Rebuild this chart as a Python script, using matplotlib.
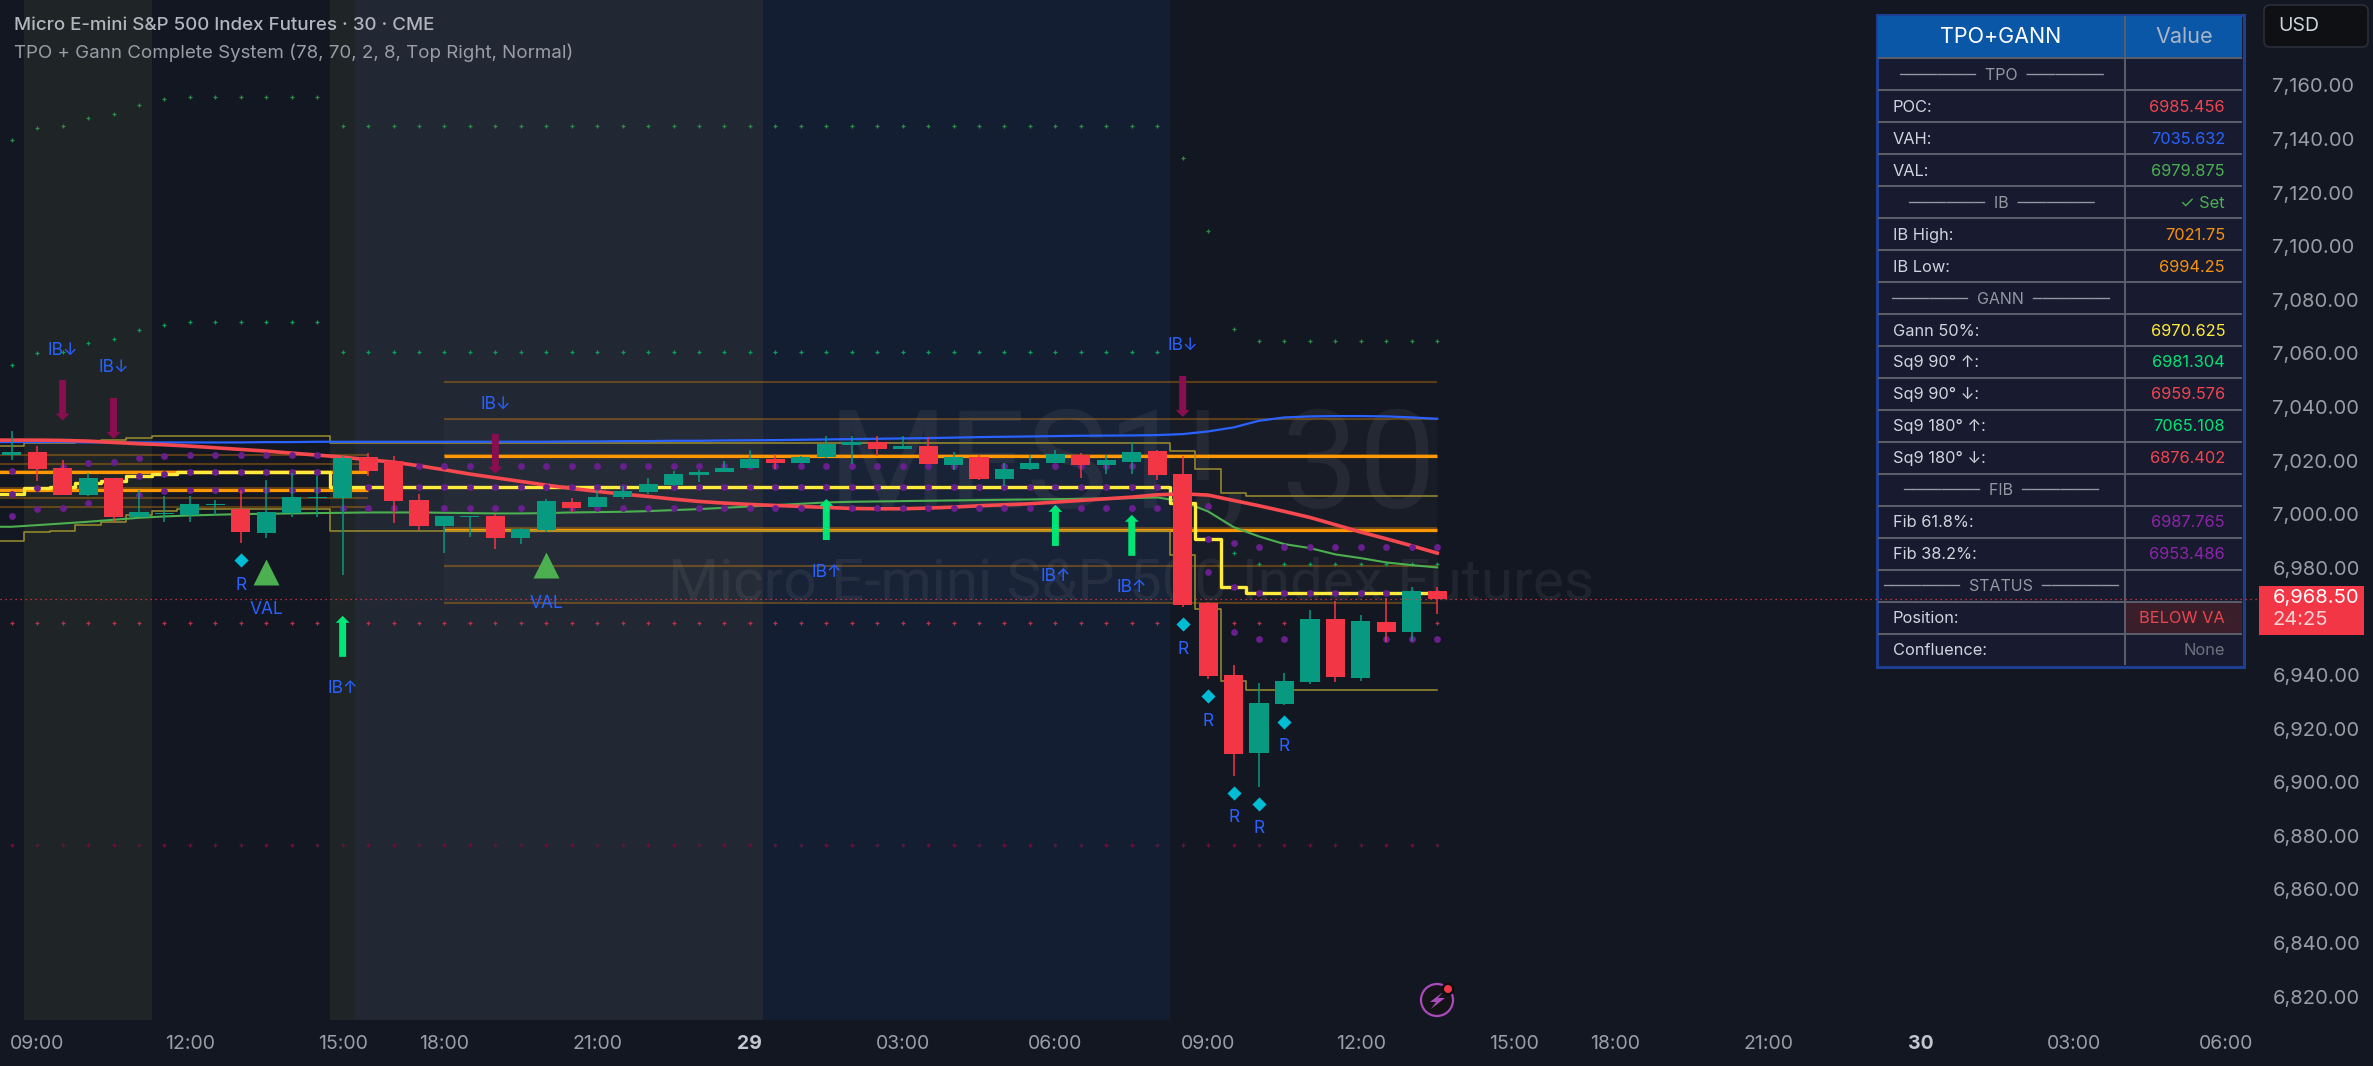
import numpy as np
import matplotlib
matplotlib.use('Agg')
import matplotlib.pyplot as plt
from matplotlib.patches import Rectangle, FancyBboxPatch, Circle, Polygon

plt.rcParams['font.family'] = ['Inter', 'DejaVu Sans']

# Candles, one entry per 30 minute bar
opens = [7022.21, 7023.33, 7017.36, 7007.28, 7013.63, 6999.07, 7000.07, 6999.82, 7003.55, 7001.93,
         6993.10, 7000.56, 7006.16, 7006.16, 7021.46, 7019.97, 7005.42, 6995.71, 6999.07, 6999.44,
         6991.23, 6994.22, 7004.67, 7002.80, 7006.54, 7008.40, 7011.01, 7014.75, 7015.87, 7017.36,
         7020.72, 7019.22, 7021.46, 7025.94, 7027.06, 7024.45, 7025.57, 7018.48, 7021.46, 7013.25,
         7017.00, 7019.22, 7022.21, 7018.48, 7019.60, 7023.69, 7015.11, 6966.97, 6940.10, 6910.99,
         6929.27, 6937.49, 6961.00, 6938.98, 6959.88, 6956.15, 6971.45]
closes = [7023.33, 7017.00, 7007.28, 7013.63, 6999.07, 7000.94, 7000.56, 7003.92, 7003.92, 6993.47,
          7000.94, 7006.54, 7006.54, 7021.09, 7016.24, 7005.04, 6995.71, 6999.44, 6999.44, 6991.23,
          6994.59, 7005.04, 7002.43, 7006.54, 7008.77, 7011.39, 7015.12, 7015.87, 7017.36, 7020.72,
          7019.22, 7021.46, 7026.32, 7027.06, 7024.45, 7025.57, 7018.85, 7021.46, 7013.25, 7017.00,
          7019.22, 7022.58, 7018.48, 7020.34, 7023.33, 7014.74, 6966.22, 6939.72, 6910.62, 6929.65,
          6937.86, 6961.00, 6939.35, 6960.25, 6956.15, 6971.45, 6968.50]
highs = [7031.17, 7025.57, 7020.34, 7015.37, 7013.63, 7009.15, 7006.66, 7006.66, 7005.42, 7009.15,
         7012.88, 7015.37, 7014.12, 7021.84, 7022.83, 7021.84, 7007.65, 6999.44, 6999.44, 7000.19,
         6994.97, 7005.79, 7006.16, 7009.15, 7010.64, 7013.63, 7016.24, 7016.61, 7019.97, 7024.08,
         7022.58, 7021.84, 7029.30, 7029.30, 7029.05, 7029.30, 7028.80, 7023.33, 7022.21, 7019.10,
         7022.21, 7024.08, 7022.96, 7022.21, 7027.06, 7024.07, 7021.83, 6967.34, 6943.83, 6937.11,
         6940.84, 6964.36, 6967.71, 6962.49, 6968.83, 6972.94, 6972.94]
lows = [7020.34, 7012.51, 7007.28, 7006.66, 6996.96, 6999.07, 6997.21, 6997.21, 6999.82, 6989.37,
        6991.23, 6999.07, 6999.07, 6977.43, 7014.37, 6996.83, 6994.22, 6985.64, 6991.60, 6987.13,
        6989.00, 6993.47, 7000.94, 7002.80, 7005.79, 7007.65, 7010.64, 7012.13, 7015.87, 7017.36,
        7017.00, 7019.22, 7021.09, 7018.85, 7021.84, 7024.45, 7018.85, 7016.61, 7012.88, 7010.64,
        7016.61, 7019.22, 7013.63, 7015.12, 7015.12, 7012.87, 6965.48, 6938.60, 6902.40, 6898.30,
        6928.90, 6936.74, 6937.49, 6937.86, 6952.41, 6952.79, 6962.86]

# Indicator lines
vah_line = [7026.94, 7026.94, 7026.94, 7026.81, 7026.81, 7026.81, 7026.81, 7026.81, 7026.81, 7026.81,
            7026.94, 7026.94, 7027.06, 7027.06, 7027.06, 7027.06, 7027.06, 7027.06, 7027.06, 7027.06,
            7027.06, 7027.06, 7027.18, 7027.18, 7027.31, 7027.31, 7027.43, 7027.43, 7027.56, 7027.62,
            7027.68, 7027.80, 7027.93, 7028.05, 7028.18, 7028.30, 7028.43, 7028.60, 7028.80, 7028.92,
            7029.05, 7029.18, 7029.30, 7029.36, 7029.42, 7029.55, 7029.92, 7030.92, 7032.41, 7034.90,
            7036.14, 7036.52, 7036.64, 7036.64, 7036.52, 7036.14, 7035.64]
poc_line = [7027.68, 7027.68, 7027.56, 7027.31, 7026.81, 7026.32, 7025.94, 7025.44, 7024.82, 7024.20,
            7023.58, 7022.83, 7022.09, 7021.34, 7020.34, 7019.47, 7018.10, 7016.61, 7015.00, 7013.63,
            7012.26, 7010.89, 7009.65, 7008.53, 7007.53, 7006.66, 7005.66, 7004.79, 7004.17, 7003.67,
            7003.30, 7002.93, 7002.55, 7002.18, 7002.06, 7002.06, 7002.31, 7002.68, 7003.18, 7003.55,
            7003.92, 7004.55, 7005.17, 7005.79, 7006.41, 7007.28, 7007.65, 7007.16, 7005.17, 7003.18,
            7001.06, 6998.82, 6996.09, 6993.35, 6990.86, 6988.25, 6985.51]
val_line = [6995.34, 6995.96, 6996.58, 6997.21, 6997.95, 6998.70, 6999.20, 6999.57, 6999.82, 7000.07,
            7000.19, 7000.32, 7000.44, 7000.56, 7000.69, 7000.69, 7000.69, 7000.56, 7000.44, 7000.32,
            7000.32, 7000.44, 7000.69, 7000.81, 7000.94, 7001.19, 7001.56, 7001.93, 7002.43, 7002.93,
            7003.43, 7003.92, 7004.42, 7004.67, 7004.79, 7004.92, 7005.04, 7005.17, 7005.29, 7005.42,
            7005.54, 7005.66, 7005.79, 7005.91, 7006.04, 7006.29, 7004.79, 7001.06, 6995.22, 6991.73,
            6988.87, 6987.38, 6985.03, 6983.65, 6982.03, 6981.03, 6980.16]
gann_50 = [7007.53, 7009.77, 7010.14, 7011.64, 7012.51, 7014.12, 7015.00] + [7015.74] * 6 + \
          [7010.14] * 33 + [7004.17, 6990.74, 6972.82] + [6970.58] * 8
range_high = [7025.57, 7026.56, 7026.56, 7027.43, 7027.68, 7028.31] + [7029.18] * 7 + \
             [7026.56] * 33 + [7023.58, 7016.86, 7007.90] + [7006.66] * 8
range_low = [6990.00, 6993.35, 6993.60, 6996.09, 6996.96, 6999.69, 7001.31] + [7001.93] * 6 + \
            [6993.72] * 33 + [6984.89, 6964.61, 6937.62] + [6934.38] * 8

# Fib dots
fib_a = [7016.06, 7018.05, 7017.80, 7019.05, 7019.42, 7020.91, 7021.66] + [7022.03] * 6 + \
        [7017.98] * 33 + [7010.00, 7003.04, 6989.24] + [6987.74] * 8
fib_b = [7007.60, 7009.72, 7010.20, 7011.58, 7011.96, 7014.20, 7014.94] + [7015.69] * 6 + \
        [7010.14] * 33 + [6998.00, 6990.73, 6972.82] + [6970.58] * 8
fib_c = [6999.27, 7001.88, 7002.25, 7004.12, 7004.49, 7007.11, 7008.60] + [7008.97] * 6 + \
        [7002.31] * 33 + [6985.00, 6978.40, 6956.00] + [6953.40] * 8

# Square of nine crosses
sq9_180_up = [7139.7, 7144.2, 7144.9, 7147.9, 7149.4, 7152.8, 7155.0] + [7155.7] * 6 + \
             [7144.9] * 33 + [7133.0, 7105.7, 7069.2] + [7064.7] * 8
sq9_90_up = [7055.6, 7060.1, 7060.6, 7064.0, 7065.4, 7068.8, 7070.7] + [7071.8] * 6 + \
            [7060.6] * 33 + [7000.0, 7021.8, 6985.6] + [6981.5] * 8
sq9_90_dn = [6959.6] * 57
sq9_180_dn = [6876.6] * 57

# Horizontal levels: (first bar, last bar, price)
ib_levels = [(-1, 14, 7015.74), (-1, 14, 7009.15), (17, 56, 7021.70), (17, 56, 6994.20)]
fib_levels = [(-1, 14, 7022.21), (-1, 14, 7018.85), (-1, 14, 7016.30), (-1, 14, 7009.80),
              (-1, 14, 7006.04), (-1, 14, 7002.80),
              (17, 56, 7049.20), (17, 56, 7035.40), (17, 56, 7022.20), (17, 56, 6994.80),
              (17, 56, 6980.66), (17, 56, 6967.00)]

# Session shading: (from, to, colour)
sessions = [(0.5, 5.5, '#1f2426'), (12.5, 13.5, '#1f2426'), (13.5, 29.5, '#212733'), (29.5, 45.5, '#141e33')]

# Signals
down_bars = [2, 4, 19, 46]
down_tail = [7050.1, 7043.4, 7030.0, 7051.6]
down_tip = [7035.0, 7028.1, 7015.1, 7036.3]
down_text = [7061.3, 7055.0, 7041.2, 7063.0]
up_bars = [13, 32, 41, 44]
up_tail = [6946.8, 6990.4, 6988.2, 6984.5]
up_tip = [6962.1, 7005.7, 7003.5, 6999.8]
up_text = [6934.9, 6978.2, 6976.6, 6972.5]
r_bars = [9, 46, 47, 48, 49, 50]
r_price = [6983.0, 6959.1, 6932.3, 6896.1, 6891.8, 6922.4]
r_text = [6973.4, 6949.7, 6922.7, 6887.0, 6882.6, 6913.4]
val_bars = [10, 21]
val_price = [6978.6, 6980.9]
val_text = [6964.3, 6966.6]

# Axis ticks
price_ticks = [7160, 7140, 7120, 7100, 7080, 7060, 7040, 7020, 7000, 6980, 6940, 6920, 6900, 6880, 6860, 6840, 6820]
time_bars = [1, 7, 13, 17, 23, 29, 35, 41, 47, 53, 59, 63, 69, 75, 81, 87]
time_labels = ['09:00', '12:00', '15:00', '18:00', '21:00', '29', '03:00', '06:00',
               '09:00', '12:00', '15:00', '18:00', '21:00', '30', '03:00', '06:00']
last_price = 6968.50

# Table on the right
table_labels = ['', 'POC:', 'VAH:', 'VAL:', '', 'IB High:', 'IB Low:', '', 'Gann 50%:', 'Sq9 90° ↑:', 'Sq9 90° ↓:',
                'Sq9 180° ↑:', 'Sq9 180° ↓:', '', 'Fib 61.8%:', 'Fib 38.2%:', '', 'Position:', 'Confluence:']
table_sections = ['TPO', '', '', '', 'IB', '', '', 'GANN', '', '', '', '', '', 'FIB', '', '', 'STATUS', '', '']
table_values = ['', '6985.456', '7035.632', '6979.875', '✓ Set', '7021.75', '6994.25', '', '6970.625', '6981.304',
                '6959.576', '7065.108', '6876.402', '', '6987.765', '6953.486', '', 'BELOW VA', 'None']
table_colors = ['w', '#f2444f', '#2962ff', '#4caf50', '#4caf50', '#f7920f', '#f7920f', 'w', '#ffeb3b', '#00e676',
                '#f2444f', '#00e676', '#f2444f', 'w', '#8e24aa', '#8e24aa', 'w', '#e8464f', '#6f727d']

BG = '#131722'
RED = '#f23645'
TEAL = '#089981'
TEXT = '#9a9da6'

fig = plt.figure(figsize=(23.73, 10.66), dpi=100, facecolor=BG)

# Full figure axes in pixels for the table and the price tag
chrome = fig.add_axes([0, 0, 1, 1], zorder=0)
chrome.set_xlim(0, 2373)
chrome.set_ylim(1066, 0)
chrome.axis('off')

ax = fig.add_axes([0, 46 / 1066, 2262 / 2373, 1020 / 1066], zorder=1)
ax.set_facecolor('none')
ax.set_xlim(-0.46, 88.4)
ax.set_ylim(6811.3, 7191.9)
for s in ax.spines.values():
    s.set_visible(False)

# Same pixel axes again, above the chart, for the legend text
top = fig.add_axes([0, 0, 1, 1], zorder=2)
top.set_xlim(0, 2373)
top.set_ylim(1066, 0)
top.axis('off')

bars = np.arange(len(opens))
x_ext = np.r_[-1, bars]

for a, b, c in sessions:
    ax.axvspan(a, b, color=c, lw=0, zorder=0)
ax.add_patch(Rectangle((17, 6967.0), 39, 68.4, fc='white', alpha=0.025, lw=0, zorder=0.5))

# Watermark
ax.text(1131 / 25.43 - 0.46, 7016.5, 'MES1!, 30', fontsize=99, family='Roboto', color='#ffffff', alpha=0.06,
        ha='center', va='center', zorder=1)
ax.text(1130 / 25.43 - 0.46, 6974.0, 'Micro E-mini S&P 500 Index Futures', fontsize=42, family='Roboto',
        color='#ffffff', alpha=0.06, ha='center', va='center', zorder=1)

# Levels
for a, b, p in fib_levels:
    ax.hlines(p, a, b, color='#ff9800', alpha=0.3, lw=1.5, zorder=2)
for a, b, p in ib_levels:
    ax.hlines(p, a, b, color='#ff9800', lw=2.3, zorder=2.2)

# Crosses and dots
ax.scatter(bars, sq9_180_up, marker='+', s=8, lw=0.9, color='#2e8b45', zorder=2)
ax.scatter(bars, sq9_90_up, marker='+', s=8, lw=0.9, color='#0d9f57', zorder=2)
ax.scatter(bars, sq9_90_dn, marker='+', s=8, lw=0.9, color='#b5344a', zorder=2)
ax.scatter(bars, sq9_180_dn, marker='+', s=8, lw=0.9, color='#6d1040', zorder=2)

# Lines
ax.step(x_ext, np.r_[range_high[0], range_high], where='mid', color='#9c8e2e', lw=1.1, zorder=2.4)
ax.step(x_ext, np.r_[range_low[0], range_low], where='mid', color='#9c8e2e', lw=1.1, zorder=2.4)
ax.plot(x_ext, np.r_[vah_line[0], vah_line], color='#2962ff', lw=1.6, zorder=2.6)
ax.plot(x_ext, np.r_[val_line[0], val_line], color='#4caf50', lw=1.5, zorder=2.6)
ax.step(x_ext, np.r_[gann_50[0], gann_50], where='mid', color='#ffeb3b', lw=2.4, zorder=2.7)
ax.plot(x_ext, np.r_[poc_line[0], poc_line], color='#f5484f', lw=2.6, zorder=2.8)

ax.scatter(bars, fib_a, s=24, lw=0, color='#6a1f8f', zorder=3)
ax.scatter(bars, fib_b, s=24, lw=0, color='#6a1f8f', zorder=3)
ax.scatter(bars, fib_c, s=24, lw=0, color='#6a1f8f', zorder=3)

# Candles
colors = [TEAL if c >= o else RED for o, c in zip(opens, closes)]
ax.vlines(bars, lows, highs, colors=colors, lw=1.1, zorder=4)
body_bottom = np.minimum(opens, closes)
body_height = np.abs(np.array(closes) - np.array(opens))
ax.bar(bars, body_height, bottom=body_bottom, width=0.75, color=colors, lw=0, zorder=4.1)

# Signal arrows, marks and labels
for i, tail, tip, t in zip(down_bars, down_tail, down_tip, down_text):
    ax.annotate('', xy=(i, tip), xytext=(i, tail), zorder=6,
                arrowprops=dict(width=5, headwidth=10, headlength=5, fc='#880e4f', ec='none', shrink=0))
    ax.text(i, t, 'IB↓', color='#2962ff', fontsize=12.5, ha='center', va='center', zorder=6)
for i, tail, tip, t in zip(up_bars, up_tail, up_tip, up_text):
    ax.annotate('', xy=(i, tip), xytext=(i, tail), zorder=6,
                arrowprops=dict(width=5, headwidth=10, headlength=5, fc='#00e676', ec='none', shrink=0))
    ax.text(i, t, 'IB↑', color='#2962ff', fontsize=12.5, ha='center', va='center', zorder=6)
ax.scatter(r_bars, r_price, marker='D', s=52, lw=0, color='#00bcd4', zorder=6)
for i, t in zip(r_bars, r_text):
    ax.text(i, t, 'R', color='#2962ff', fontsize=12.5, ha='center', va='center', zorder=6)
ax.scatter(val_bars, val_price, marker='^', s=350, lw=0, color='#4caf50', zorder=6)
for i, t in zip(val_bars, val_text):
    ax.text(i, t, 'VAL', color='#2962ff', fontsize=12.5, ha='center', va='center', zorder=6)

# Last price line
ax.axhline(last_price, color=RED, ls=(0, (1, 3)), lw=0.9, zorder=7)

# Axes labels
ax.yaxis.tick_right()
ax.set_yticks(price_ticks)
ax.set_yticklabels([f'{p:,.2f}' for p in price_ticks])
ax.set_xticks(time_bars)
ax.set_xticklabels(time_labels)
ax.tick_params(axis='y', length=0, pad=7.5, labelsize=14.5, labelcolor=TEXT)
ax.tick_params(axis='x', length=0, pad=11, labelsize=14, labelcolor=TEXT)
for lab in ax.get_xticklabels():
    if lab.get_text() in ('29', '30'):
        lab.set_fontweight('bold')
        lab.set_color('#c3c6ce')

# Legend text
top.text(14, 26, 'Micro E-mini S&P 500 Index Futures · 30 · CME', color='#b2b5be', fontsize=13.5,
         fontweight='medium', va='center')
top.text(14, 53, 'TPO + Gann Complete System (78, 70, 2, 8, Top Right, Normal)', color='#9a9da6', fontsize=13.5,
         va='center')

# Table
chrome.add_patch(Rectangle((1876.5, 14.5), 367, 652, fc='#181b2f', ec='#1e3f91', lw=2.2, zorder=1))
chrome.add_patch(Rectangle((1878, 16), 364, 42, fc='#0a57a8', lw=0, zorder=1.1))
chrome.add_patch(Rectangle((2126, 603), 116, 31, fc='#3a1f2b', lw=0, zorder=1.1))
row_tops = 58 + 32 * np.arange(20)
for y in row_tops[:-1]:
    chrome.plot([1878, 2242], [y, y], color='#5b5e6b', lw=1.4, zorder=1.2, solid_capstyle='butt')
chrome.plot([2125, 2125], [16, 665], color='#5b5e6b', lw=1.4, zorder=1.2, solid_capstyle='butt')
chrome.text(2001, 37, 'TPO+GANN', color='white', fontsize=15.5, ha='center', va='center', zorder=2)
chrome.text(2184, 37, 'Value', color='#a9b4c6', fontsize=15.5, ha='center', va='center', zorder=2)
for n, (lab, sec, val, col) in enumerate(zip(table_labels, table_sections, table_values, table_colors)):
    yc = 75.5 + 32 * n
    if n >= 9:
        yc = 75.5 + 32 * n - 1
    if lab:
        chrome.text(1893, yc, lab, color='#d1d4dc', fontsize=11.8, va='center', zorder=2)
    if sec:
        chrome.text(2001, yc, '────────  ' + sec + '  ────────', color='#9598a1', fontsize=11.5, ha='center',
                    va='center', zorder=2)
    if val:
        chrome.text(2225, yc, val, color=col, fontsize=11.8, ha='right', va='center', zorder=2)

# USD box and price tag
chrome.add_patch(FancyBboxPatch((2266, 7), 100, 38, boxstyle='round,pad=2,rounding_size=6', fc='#0e1014',
                                ec='#2a2e39', lw=1.2, zorder=1))
chrome.text(2278, 26, 'USD', color='#d1d4dc', fontsize=14, va='center', zorder=2)
chrome.add_patch(Rectangle((2259, 586), 105, 49, fc=RED, lw=0, zorder=1))
chrome.text(2273, 598, f'{last_price:,.2f}', color='white', fontsize=14.5, va='center', zorder=2)
chrome.text(2273, 620, '24:25', color='#fbd4d8', fontsize=14.5, va='center', zorder=2)

# Lightning badge
top.add_patch(Circle((1437, 1000), 16, fc='#131318', ec='#a94bb8', lw=1.6, zorder=3))
top.add_patch(Polygon([(1443, 992), (1430, 1002), (1436, 1002), (1431, 1009), (1445, 998), (1438, 998)],
                      fc='#a94bb8', lw=0, zorder=3.1))
top.add_patch(Circle((1448, 989), 6.5, fc='#0e0e12', lw=0, zorder=3.2))
top.add_patch(Circle((1448, 989), 4, fc=RED, lw=0, zorder=3.3))

fig.savefig('out.png', dpi=100, facecolor=BG)
